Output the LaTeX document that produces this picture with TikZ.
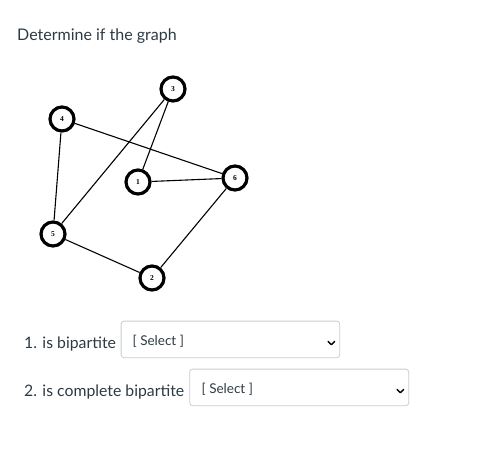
\documentclass[tikz,border=0pt]{standalone}
\usepackage{fontspec}
\setmainfont{Lato}
\newfontfamily\numfont{Liberation Serif}
\definecolor{canvastext}{HTML}{2D3B45}
\definecolor{selborder}{HTML}{C7CDD1}
\begin{document}
\begin{tikzpicture}[x=1pt, y=-1pt,
    vertex/.style={circle, draw=black, line width=3.2pt, fill=white, minimum size=24pt, inner sep=0pt, font=\numfont\bfseries\fontsize{7.5}{8}\selectfont},
    edge/.style={line width=1.1pt},
    question/.style={anchor=base west, inner sep=0pt, text=canvastext, font=\fontsize{15.8}{18}\selectfont},
    selectbox/.style={draw=selborder, line width=0.8pt, rounded corners=3pt, fill=white, anchor=north west, inner sep=0pt},
    selecttext/.style={anchor=base west, inner sep=0pt, text=canvastext, font=\fontsize{13.5}{15}\selectfont},
    chevron/.style={line width=1.4pt, line cap=round, line join=round}]
    \useasboundingbox[fill=white] (0,0) rectangle (497,455);
    % Title
    \node[question, font=\fontsize{16}{18}\selectfont] (title) at (17,40) {Determine if the graph};
    % Vertices
    \node[vertex] (v3) at (173,89) {3};
    \node[vertex] (v4) at (62,119) {4};
    \node[vertex] (v1) at (138,182) {1};
    \node[vertex] (v6) at (235,178) {6};
    \node[vertex] (v5) at (53,234) {5};
    \node[vertex] (v2) at (152,278) {2};
    % Edges
    \draw[edge] (v4) -- (v5);
    \draw[edge] (v4) -- (v6);
    \draw[edge] (v3) -- (v5);
    \draw[edge] (v3) -- (v1);
    \draw[edge] (v1) -- (v6);
    \draw[edge] (v6) -- (v2);
    \draw[edge] (v5) -- (v2);
    % Questions
    \node[question] (q1) at (24,348) {1. is bipartite};
    \node[selectbox, minimum width=218.6pt, minimum height=36.6pt] (sel1) at (120.7,320.7) {};
    \node[selecttext] (sel1text) at (132.5,345) {[ Select ]};
    \draw[chevron] ([xshift=-12pt, yshift=-2pt]sel1.east) -- ++(3.3,3.3) -- ++(3.3,-3.3);
    \node[question] (q2) at (24,396) {2. is complete bipartite};
    \node[selectbox, minimum width=219pt, minimum height=36.6pt] (sel2) at (189.3,368.7) {};
    \node[selecttext] (sel2text) at (201.5,393.5) {[ Select ]};
    \draw[chevron] ([xshift=-12pt, yshift=-2pt]sel2.east) -- ++(3.3,3.3) -- ++(3.3,-3.3);
\end{tikzpicture}
\end{document}
